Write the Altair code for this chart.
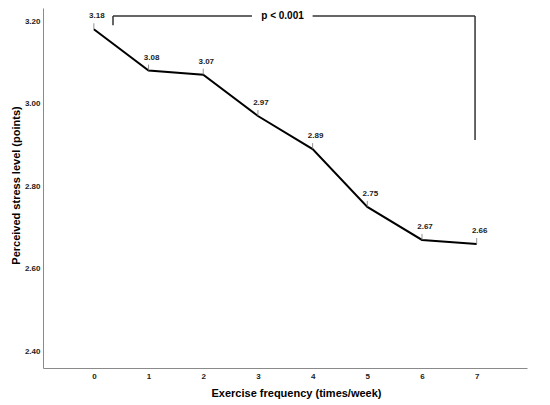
import pandas as pd
import altair as alt

freq = [0, 1, 2, 3, 4, 5, 6, 7]
stress = [3.18, 3.08, 3.07, 2.97, 2.89, 2.75, 2.67, 2.66]
labels = ['3.18', '3.08', '3.07', '2.97', '2.89', '2.75', '2.67', '2.66']
y_ticks = [2.40, 2.60, 2.80, 3.00, 3.20]

# significance bracket (data coordinates)
br_x = [0.35, 0.35, 4.00, 6.97]
br_x2 = [0.35, 2.89, 6.97, 6.97]
br_y = [3.190, 3.212, 3.212, 3.212]
br_y2 = [3.212, 3.212, 3.212, 2.912]
p_text = ['p < 0.001']
p_x = [3.45]
p_y = [3.212]

FONT = 'Liberation Sans'

df = pd.DataFrame({'freq': freq, 'stress': stress, 'label': labels})
bracket = pd.DataFrame({'x': br_x, 'x2': br_x2, 'y': br_y, 'y2': br_y2})
ptxt = pd.DataFrame({'x': p_x, 'y': p_y, 't': p_text})

xs = alt.Scale(domain=[-0.93, 7.92], nice=False, zero=False)
ys = alt.Scale(domain=[2.36, 3.2315], nice=False, zero=False)

x_axis = alt.Axis(values=freq, format='d', ticks=False, grid=False, labelPadding=4,
                  labelFontSize=8, labelFontWeight='bold', labelColor='#222',
                  domainColor='#8a8a8a', labelFont=FONT,
                  title='Exercise frequency (times/week)', titleFont=FONT,
                  titleFontSize=11, titleFontWeight='bold', titleColor='#000',
                  titleX=253, titleY=25, titleBaseline='middle')
y_axis = alt.Axis(values=y_ticks, format='.2f', ticks=False, grid=False,
                  labelPadding=3, labelFontSize=8, labelFontWeight='bold',
                  labelColor='#222', domainColor='#8a8a8a', labelFont=FONT,
                  title='Perceived stress level (points)', titleFont=FONT,
                  titleFontSize=11, titleFontWeight='bold', titleColor='#000',
                  titleX=-27, titleY=177, titleAngle=-90, titleAlign='center',
                  titleBaseline='middle')

base = alt.Chart(df)

line = base.mark_line(color='#000', strokeWidth=2).encode(
    x=alt.X('freq:Q', scale=xs, axis=x_axis),
    y=alt.Y('stress:Q', scale=ys, axis=y_axis),
)

leader = base.mark_rule(color='#777', strokeWidth=0.8, y2Offset=-6).encode(
    x='freq:Q', y='stress:Q', y2='stress:Q'
)

vals = base.mark_text(dx=3, dy=-13, baseline='middle', font=FONT, fontSize=8,
                      fontWeight='bold', color='#222').encode(
    x='freq:Q', y='stress:Q', text='label:N'
)

br = alt.Chart(bracket).mark_rule(color='#333', strokeWidth=1.5).encode(
    x='x:Q', x2='x2:Q', y='y:Q', y2='y2:Q'
)

ptext = alt.Chart(ptxt).mark_text(font=FONT, fontSize=10, fontWeight='bold',
                                  color='#000', baseline='middle').encode(
    x='x:Q', y='y:Q', text='t:N'
)

chart = alt.layer(line, leader, vals, br, ptext).properties(
    width=484, height=360,
    autosize=alt.AutoSizeParams(type='none'),
    padding={'left': 35, 'top': 0, 'right': 15, 'bottom': 37},
    background='white'
).configure_view(stroke=None)

chart.save("out.html", embed_options={"renderer": "svg", "actions": False})
